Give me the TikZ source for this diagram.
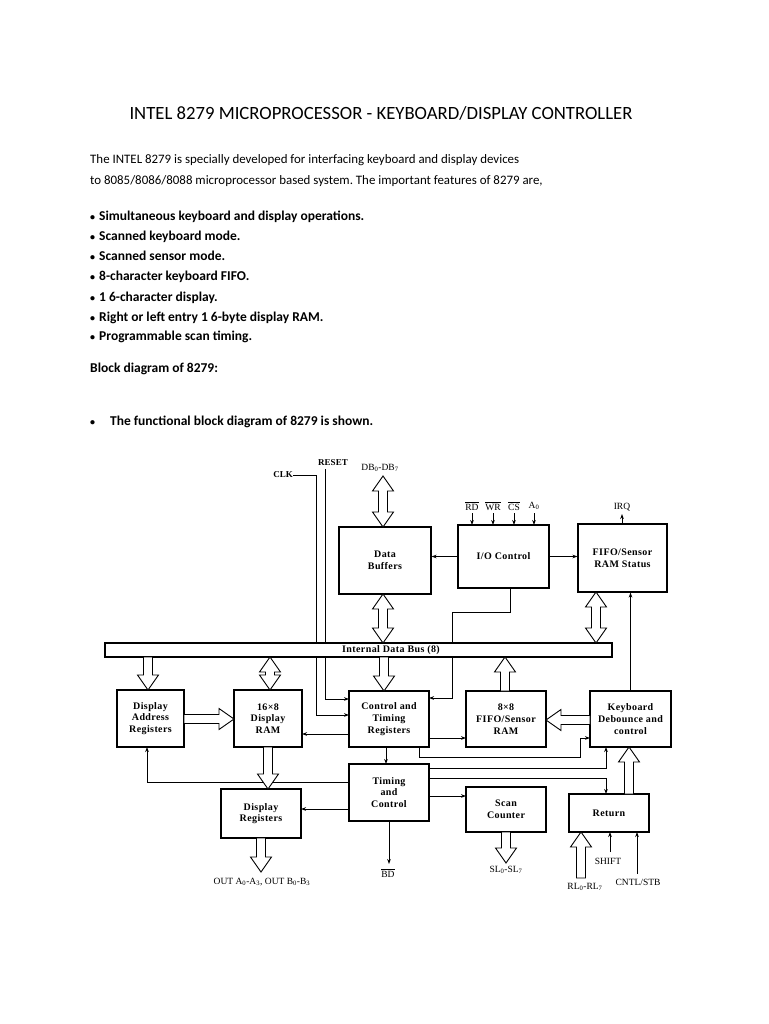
\documentclass[tikz,border=0pt]{standalone}
\usepackage{fontspec}
\setmainfont{Carlito}
\newfontfamily\diag[LetterSpace=4]{Liberation Serif}
\newfontfamily\diaglab{Liberation Serif}
\usetikzlibrary{calc,arrows.meta,backgrounds}
\frenchspacing
\tikzset{
  box/.style={draw, line width=1.1pt, align=center, inner sep=0pt,
    font=\diag\bfseries\fontsize{10}{11.7}\selectfont},
  lab/.style={inner sep=0pt, font=\diaglab\fontsize{9.5}{11}\selectfont},
  blab/.style={lab, font=\diaglab\bfseries\fontsize{9}{11}\selectfont},
  conn/.style={line width=0.8pt},
  arr/.style={conn, -{Stealth[length=5pt,width=3.6pt]}},
  hol/.style={draw, fill=white, line width=0.9pt, line join=miter},
  body/.style={anchor=base west, inner sep=0pt, font=\fontsize{12.9}{15}\selectfont},
  bbody/.style={body, font=\bfseries\fontsize{13.5}{15}\selectfont},
}
\newcommand\bul{\makebox[9pt][l]{\fontsize{10}{10}\selectfont •}}
\newcommand\sarrow[2]{%
  \coordinate (hq) at ($(#2)!15pt!(#1)$);
  \filldraw[hol] ($(#1)!4.5pt!90:(#2)$) -- ($(hq)!4.5pt!90:(#2)$) -- ($(hq)!10.5pt!90:(#2)$)
    -- (#2) -- ($(hq)!10.5pt!-90:(#2)$) -- ($(hq)!4.5pt!-90:(#2)$) -- ($(#1)!4.5pt!-90:(#2)$) -- cycle;}
\newcommand\darrow[2]{%
  \coordinate (hp) at ($(#1)!15pt!(#2)$);
  \coordinate (hq) at ($(#2)!15pt!(#1)$);
  \filldraw[hol] (#1) -- ($(hp)!10.5pt!90:(#2)$) -- ($(hp)!4.5pt!90:(#2)$) -- ($(hq)!4.5pt!90:(#2)$)
    -- ($(hq)!10.5pt!90:(#2)$) -- (#2) -- ($(hq)!10.5pt!-90:(#2)$) -- ($(hq)!4.5pt!-90:(#2)$)
    -- ($(hp)!4.5pt!-90:(#2)$) -- ($(hp)!10.5pt!-90:(#2)$) -- cycle;}
\newcommand\ovl[1]{$\overline{\hbox{#1}}$}
\begin{document}
\begin{tikzpicture}[x=1pt,y=-1pt]
\useasboundingbox (0,0) rectangle (768,1024);
% ---------- text ----------
\node[inner sep=0pt, font=\fontsize{18.7}{21}\selectfont] (title) at (381,113)
  {INTEL 8279 MICROPROCESSOR - KEYBOARD/DISPLAY CONTROLLER};
\node[body] (t1) at (90,164) {The INTEL 8279 is specially developed for interfacing keyboard and display devices};
\node[body] (t2) at (90,185) {to 8085/8086/8088 microprocessor based system. The important features of 8279 are,};
\node[bbody] (b1) at (90,220.5) {\bul Simultaneous keyboard and display operations.};
\node[bbody] (b2) at (90,240.5) {\bul Scanned keyboard mode.};
\node[bbody] (b3) at (90,260.5) {\bul Scanned sensor mode.};
\node[bbody] (b4) at (90,280.5) {\bul 8-character keyboard FIFO.};
\node[bbody] (b5) at (90,301.5) {\bul 1 6-character display.};
\node[bbody] (b6) at (90,321.5) {\bul Right or left entry 1 6-byte display RAM.};
\node[bbody] (b7) at (90,340.5) {\bul Programmable scan timing.};
\node[bbody] (bd) at (90,372.5) {Block diagram of 8279:};
\node[bbody] (b8) at (90,425.5) {\bul};
\node[bbody] (b8t) at (110,425.5) {The functional block diagram of 8279 is shown.};
% ---------- boxes ----------
\node[box, minimum width=92pt, minimum height=67pt] (db) at (385,560.5) {Data\\Buffers};
\node[box, minimum width=91pt, minimum height=63pt] (io) at (503.5,556.5) {I/O Control};
\node[box, minimum width=89pt, minimum height=68pt] (fst) at (622.5,558) {FIFO/Sensor\\RAM Status};
\node[draw, fill=white, line width=1.1pt, inner sep=0pt, minimum width=507pt, minimum height=14pt] (bus) at (358.5,650) {};
\node[box, draw=none] (bustext) at (391,650.5) {Internal Data Bus (8)};
\node[box, minimum width=67pt, minimum height=57pt] (dar) at (150.5,718.5) {Display\\Address\\Registers};
\node[box, minimum width=68pt, minimum height=57pt] (dram) at (268,718.5) {16×8\\Display\\RAM};
\node[box, minimum width=80pt, minimum height=56pt] (ctr) at (389,719) {Control and\\Timing\\Registers};
\node[box, minimum width=80pt, minimum height=56pt] (fram) at (506,719) {8×8\\FIFO/Sensor\\RAM};
\node[box, minimum width=81pt, minimum height=56pt] (kbd) at (630.5,719) {Keyboard\\Debounce and\\control};
\node[box, minimum width=80pt, minimum height=57pt] (tc) at (389,792.5) {Timing\\and\\Control};
\node[box, minimum width=80pt, minimum height=49pt] (dreg) at (261,813.5) {Display\\Registers};
\node[box, minimum width=80pt, minimum height=45pt] (scan) at (506,809.5) {Scan\\Counter};
\node[box, minimum width=80pt, minimum height=38pt] (ret) at (609,813) {Return};
% ---------- labels ----------
\node[blab, anchor=east] (clk) at (293,475) {CLK};
\node[blab] (rst) at (333,463) {RESET};
\node[lab] (dbl) at (380,468) {DB\textsubscript{0}-DB\textsubscript{7}};
\node[lab] (rd) at (472,506) {\ovl{RD}};
\node[lab] (wr) at (493,506) {\ovl{WR}};
\node[lab] (cs) at (514,506) {\ovl{CS}};
\node[lab] (a0) at (534,506) {A\textsubscript{0}};
\node[lab] (irq) at (622,507) {IRQ};
\node[lab] (out) at (262,882) {OUT A\textsubscript{0}-A\textsubscript{3}, OUT B\textsubscript{0}-B\textsubscript{3}};
\node[lab] (bdl) at (388,873) {\ovl{BD}};
\node[lab] (sl) at (506,870) {SL\textsubscript{0}-SL\textsubscript{7}};
\node[lab] (rl) at (585,887) {RL\textsubscript{0}-RL\textsubscript{7}};
\node[lab] (shift) at (608,861) {SHIFT};
\node[lab] (cntl) at (638,882) {CNTL/STB};
% ---------- coordinates ----------
\coordinate (clk1) at (316,475);
\coordinate (ctrclk) at (349,715);
\coordinate (rst0) at (325,469);
\coordinate (ctrrst) at (349,699);
\coordinate (dbtop) at (383,476);
\coordinate (dbn) at (383,527);
\coordinate (dbs) at (383,594);
\coordinate (busdb) at (383,643);
\coordinate (rdt) at (472,513); \coordinate (rdb) at (472,525);
\coordinate (wrt) at (493,513); \coordinate (wrb) at (493,525);
\coordinate (cst) at (514,513); \coordinate (csb) at (514,525);
\coordinate (a0t) at (534,513); \coordinate (a0b) at (534,525);
\coordinate (irqt) at (622,514);
\coordinate (fsts) at (596,592); \coordinate (busfst) at (596,643);
\coordinate (io1) at (510,588); \coordinate (io2) at (510,612); \coordinate (io3) at (452,612);
\coordinate (io4) at (452,698); \coordinate (ctrio) at (429,698);
\coordinate (busdar) at (148,657); \coordinate (darn) at (148,690);
\coordinate (busdram) at (270,657); \coordinate (dramn) at (270,690);
\coordinate (busctr) at (384,657); \coordinate (ctrn) at (384,691);
\coordinate (framn) at (505,691); \coordinate (busfram) at (505,657);
\coordinate (dare) at (184,719); \coordinate (dramw) at (234,719);
\coordinate (kbdw) at (590,720); \coordinate (frame) at (546,720);
\coordinate (drams) at (268,747); \coordinate (dregn) at (268,789);
\coordinate (dregs) at (261,838); \coordinate (outt) at (261,872);
\coordinate (ctrl1) at (349,734); \coordinate (drame) at (302,734);
\coordinate (ctrr1) at (429,738); \coordinate (framw) at (466,738);
\coordinate (ctrs1) at (386,747); \coordinate (tcn) at (386,764);
\coordinate (ctrs2) at (419,747); \coordinate (k1) at (419,757); \coordinate (k2) at (580,757);
\coordinate (k3) at (580,738); \coordinate (kbdw2) at (590,738);
\coordinate (tce1) at (429,768); \coordinate (tk1) at (606,768); \coordinate (kbds) at (606,747);
\coordinate (tce2) at (429,778); \coordinate (tr1) at (606,778); \coordinate (retn) at (606,794);
\coordinate (tce3) at (429,796); \coordinate (scanw) at (466,796);
\coordinate (tcw1) at (349,782); \coordinate (td1) at (147,782); \coordinate (dars) at (147,747);
\coordinate (tcw2) at (349,809); \coordinate (drege) at (301,809);
\coordinate (tcs) at (389,821); \coordinate (bdt) at (389,864);
\coordinate (scans) at (506,832); \coordinate (slt) at (506,863);
\coordinate (retu) at (629,794); \coordinate (kbdb) at (629,747);
\coordinate (rlb) at (581,878); \coordinate (rets1) at (581,832);
\coordinate (shb) at (610,852); \coordinate (rets2) at (610,832);
\coordinate (cnb) at (637,874); \coordinate (rets3) at (637,832);
% ---------- thin connectors ----------
\begin{pgfonlayer}{background}
\draw[arr] (clk.east) -- (clk1) |- (ctrclk);
\draw[arr] (rst0) |- (ctrrst);
\draw[arr] (rdt) -- (rdb);
\draw[arr] (wrt) -- (wrb);
\draw[arr] (cst) -- (csb);
\draw[arr] (a0t) -- (a0b);
\draw[arr] (io.west) -- (io.west -| db.east);
\draw[arr] (io.east) -- (io.east -| fst.west);
\draw[arr] (fst.north -| irqt) -- (irqt);
\draw[arr] (kbd.north) -- (kbd.north |- fst.south);
\draw[arr] (io1) -- (io2) -- (io3) -- (io4) -- (ctrio);
\draw[arr] (ctrl1) -- (drame);
\draw[arr] (ctrr1) -- (framw);
\draw[arr] (ctrs1) -- (tcn);
\draw[arr] (ctrs2) -- (k1) -- (k2) -- (k3) -- (kbdw2);
\draw[arr] (tce1) -- (tk1) -- (kbds);
\draw[arr] (tce2) -- (tr1) -- (retn);
\draw[arr] (tce3) -- (scanw);
\draw[arr] (tcw1) -- (td1) -- (dars);
\draw[arr] (tcw2) -- (drege);
\draw[arr] (tcs) -- (bdt);
\draw[arr] (shb) -- (rets2);
\draw[arr] (cnb) -- (rets3);
\end{pgfonlayer}
% ---------- hollow arrows ----------
\darrow{dbtop}{dbn}
\darrow{dbs}{busdb}
\darrow{fsts}{busfst}
\sarrow{busdar}{darn}
\darrow{busdram}{dramn}
\sarrow{busctr}{ctrn}
\sarrow{framn}{busfram}
\sarrow{dare}{dramw}
\sarrow{kbdw}{frame}
\sarrow{drams}{dregn}
\sarrow{dregs}{outt}
\sarrow{scans}{slt}
\sarrow{retu}{kbdb}
\sarrow{rlb}{rets1}
\end{tikzpicture}
\end{document}
